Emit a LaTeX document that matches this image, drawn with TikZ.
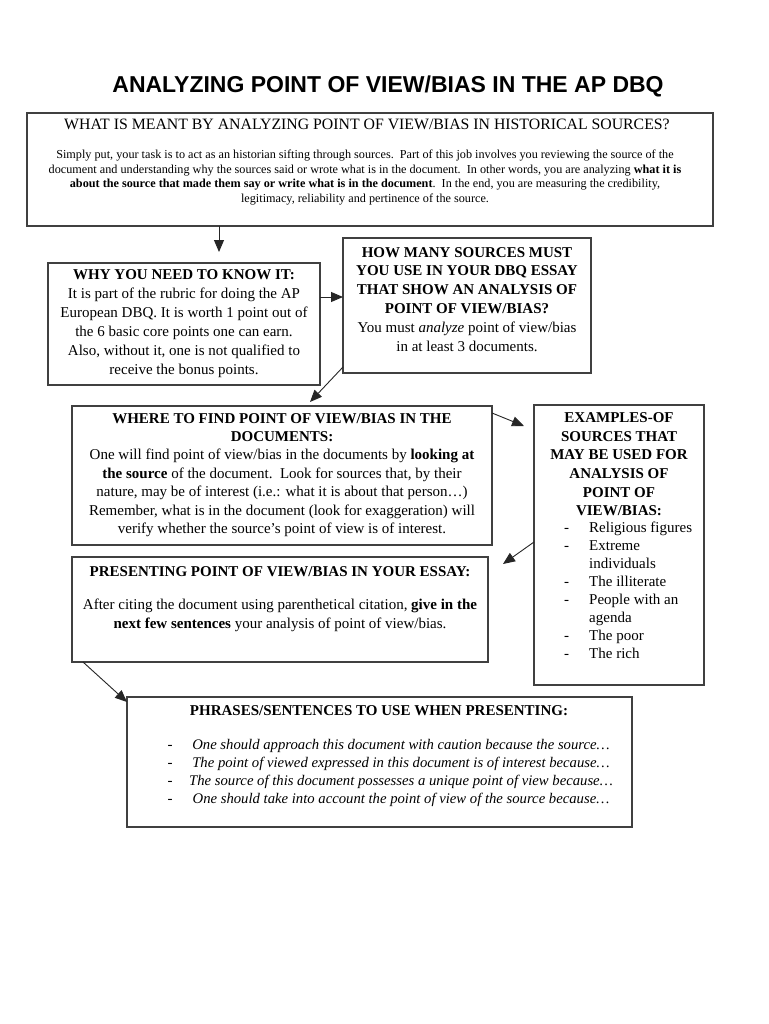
\documentclass[tikz,border=0pt]{standalone}
\usepackage{fontspec}
\setmainfont{Liberation Serif}
\newfontfamily\titlefont{Liberation Sans}
\usetikzlibrary{arrows.meta,calc}
\newcommand\dsh{\makebox[25pt][l]{-}}
\begin{document}
\begin{tikzpicture}[x=1pt,y=-1pt,
  box/.style={draw=black!75,line width=1.1pt,inner sep=0pt,outer sep=0pt,anchor=north west},
  txt/.style={inner sep=0pt,align=center,anchor=north},
  arr/.style={draw=black!85,line width=0.9pt,-{Triangle[length=12pt,width=10pt]}},
  body/.style={font=\fontsize{15}{19}\selectfont}
]
\useasboundingbox[fill=white] (0,0) rectangle (768,1024);

% title
\node[txt,font=\fontsize{23}{27}\selectfont\titlefont\bfseries] (title) at (388,76) {ANALYZING POINT OF VIEW/BIAS IN THE AP DBQ};

% boxes
\node[box,minimum width=686pt,minimum height=113pt] (b1) at (27,113) {};
\node[box,minimum width=272pt,minimum height=122pt] (b2) at (48,263) {};
\node[box,minimum width=248pt,minimum height=135pt] (b3) at (343,238) {};
\node[box,minimum width=420pt,minimum height=139pt] (b4) at (72,406) {};
\node[box,minimum width=170pt,minimum height=280pt] (b5) at (534,405) {};
\node[box,minimum width=416pt,minimum height=105pt] (b6) at (72,557) {};
\node[box,minimum width=505pt,minimum height=130pt] (b7) at (127,697) {};

% box 1
\node[txt,font=\fontsize{15.8}{19}\selectfont] (h1) at (367,119) {WHAT IS MEANT BY ANALYZING POINT OF VIEW/BIAS IN HISTORICAL SOURCES?};
\node[txt,font=\fontsize{12.2}{14.6}\selectfont] (p1) at (365,150) {Simply put, your task is to act as an historian sifting through sources.\ \ Part of this job involves you reviewing the source of the\\
document and understanding why the sources said or wrote what is in the document.\ \ In other words, you are analyzing \textbf{what it is}\\
\textbf{about the source that made them say or write what is in the document}.\ \ In the end, you are measuring the credibility,\\
legitimacy, reliability and pertinence of the source.};

% box 2
\node[txt,body] (p2) at (184,269) {\textbf{WHY YOU NEED TO KNOW IT:}\\
It is part of the rubric for doing the AP\\
European DBQ. It is worth 1 point out of\\
the 6 basic core points one can earn.\\
Also, without it, one is not qualified to\\
receive the bonus points.};

% box 3
\node[txt,font=\fontsize{15}{18.8}\selectfont] (p3) at (467,247) {\textbf{HOW MANY SOURCES MUST}\\
\textbf{YOU USE IN YOUR DBQ ESSAY}\\
\textbf{THAT SHOW AN ANALYSIS OF}\\
\textbf{POINT OF VIEW/BIAS?}\\
You must \textit{analyze} point of view/bias\\
in at least 3 documents.};

% box 4
\node[txt,font=\fontsize{15}{18.4}\selectfont] (p4) at (282,413) {\textbf{WHERE TO FIND POINT OF VIEW/BIAS IN THE}\\
\textbf{DOCUMENTS:}\\
One will find point of view/bias in the documents by \textbf{looking at}\\
\textbf{the source} of the document.\ \ Look for sources that, by their\\
nature, may be of interest (i.e.: what it is about that person\dots)\\
Remember, what is in the document (look for exaggeration) will\\
verify whether the source's point of view is of interest.};

% box 5
\node[txt,font=\fontsize{15}{18.6}\selectfont\bfseries] (h5) at (619,412.5) {EXAMPLES-OF\\
SOURCES THAT\\
MAY BE USED FOR\\
ANALYSIS OF\\
POINT OF\\
VIEW/BIAS:};
\node[inner sep=0pt,anchor=north west,align=left,font=\fontsize{15}{17.9}\selectfont] (l5) at (564,522) {\dsh Religious figures\\
\dsh Extreme\\
\hspace*{25pt}individuals\\
\dsh The illiterate\\
\dsh People with an\\
\hspace*{25pt}agenda\\
\dsh The poor\\
\dsh The rich};

% box 6
\node[txt,body] (h6) at (280,566) {\textbf{PRESENTING POINT OF VIEW/BIAS IN YOUR ESSAY:}};
\node[txt,body] (p6) at (280,599) {After citing the document using parenthetical citation, \textbf{give in the}\\
\textbf{next few sentences} your analysis of point of view/bias.};

% box 7
\node[txt,body] (h7) at (379,705) {\textbf{PHRASES/SENTENCES TO USE WHEN PRESENTING:}};
\node[txt,font=\fontsize{14.7}{18}\selectfont\itshape] (l7) at (401,739.5) {One should approach this document with caution because the source\dots\\
The point of viewed expressed in this document is of interest because\dots\\
The source of this document possesses a unique point of view because\dots\\
One should take into account the point of view of the source because\dots};
\node[txt,font=\fontsize{15}{18}\selectfont] (d7) at (170,739.5) {\vphantom{O}-\\-\\-\\-};

% connectors
\coordinate (t1) at (219,252);
\coordinate (t2) at (343,297);
\coordinate (t3) at (310,402);
\coordinate (t4) at (524,426);
\coordinate (t5) at (503,564);
\coordinate (t6) at (127,702);
\draw[arr] (b1.south -| t1) -- (t1);
\draw[arr] (t2 -| b2.east) -- (t2);
\draw[arr] ($(b3.south west)+(0,-6)$) -- (t3);
\draw[arr] ($(b4.north east)+(0,7)$) -- (t4);
\draw[arr] ($(b5.north west)+(0,137)$) -- (t5);
\draw[arr] ($(b6.south west)+(11,0)$) -- (t6);
\end{tikzpicture}
\end{document}
